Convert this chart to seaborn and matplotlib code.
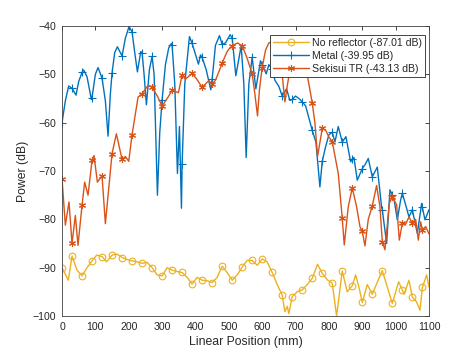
import numpy as np
import pandas as pd
import matplotlib
matplotlib.use('Agg')
import matplotlib.pyplot as plt
import seaborn as sns

# power traces (position in mm, power in dB)
noref_mm = [0, 19, 30, 45, 60, 75, 90, 104, 120, 134, 150, 165, 180, 195, 210, 225, 240, 255, 270, 285,
            300, 315, 330, 345, 360, 375, 390, 405, 420, 435, 450, 465, 480, 495, 510, 525, 540, 555, 570, 585,
            600, 615, 630, 645, 660, 668, 675, 680, 690, 705, 720, 735, 750, 766, 780, 795, 810, 823, 840, 855,
            870, 880, 890, 900, 915, 930, 945, 960, 975, 990, 1009, 1020, 1025, 1040, 1050, 1062, 1073, 1080,
            1093, 1100]
noref_db = [-90.0, -92.6, -87.6, -90.5, -91.7, -90.0, -88.6, -87.4, -87.7, -88.8, -87.4, -87.2, -87.9, -88.3,
            -88.6, -88.8, -89.1, -88.9, -90.0, -91.5, -91.7, -90.0, -90.5, -90.8, -91.0, -92.0, -93.4, -92.0,
            -92.6, -92.7, -93.1, -92.0, -89.7, -91.0, -92.6, -91.5, -89.9, -88.5, -88.5, -89.5, -88.2, -88.8,
            -91.0, -93.5, -95.7, -99.1, -98.0, -99.5, -96.0, -95.0, -94.6, -93.5, -92.2, -89.3, -91.2, -92.5,
            -93.2, -100.0, -90.7, -95.0, -93.7, -91.5, -94.0, -97.2, -93.5, -95.5, -93.0, -90.6, -94.0, -97.4,
            -92.9, -94.6, -95.5, -92.6, -96.1, -97.0, -98.8, -94.1, -91.5, -94.0]

metal_mm = [0, 10, 20, 30, 42, 50, 60, 65, 75, 88, 90, 100, 108, 120, 130, 138, 145, 150, 158, 166,
            180, 190, 201, 210, 218, 226, 236, 240, 246, 253, 262, 270, 276, 286, 293, 300, 310, 320, 328, 330,
            338, 346, 352, 358, 360, 368, 382, 390, 409, 415, 420, 432, 446, 450, 460, 472, 480, 490,
            504, 510, 521, 537, 545, 552, 560, 570, 581, 595, 600, 612, 620, 630, 638, 650, 660, 673,
            683, 690, 700, 710, 720, 730, 738, 750, 761, 773, 780, 790, 800, 810, 818, 828, 840, 851, 865, 870,
            875, 885, 900, 910, 918, 930, 945, 958, 960, 973, 983, 990, 995, 1005, 1015, 1020, 1030, 1040, 1050,
            1065, 1078, 1080, 1088, 1100]
metal_db = [-60.0, -55.5, -52.4, -52.9, -54.3, -51.5, -49.6, -49.1, -50.5, -55.2, -54.8, -50.0, -48.6, -50.8,
            -55.5, -62.8, -54.0, -49.7, -45.5, -44.3, -46.2, -42.5, -40.1, -41.2, -45.5, -49.5, -45.3, -45.5,
            -50.0, -56.3, -49.0, -46.3, -50.0, -75.0, -62.0, -55.3, -48.0, -44.5, -43.6, -44.0, -52.0, -70.5,
            -60.8, -77.7, -68.6, -52.0, -42.2, -43.6, -47.9, -46.0, -46.5, -49.0, -53.2, -51.0, -44.0,
            -42.0, -43.8, -43.5, -41.8, -42.5, -50.3, -44.1, -52.0, -67.2, -52.0, -46.5, -53.0, -47.2,
            -48.0, -49.9, -48.0, -49.0, -51.2, -52.5, -54.5, -53.0, -55.4, -55.2, -54.5, -55.0,
            -55.7, -56.5, -58.5, -61.6, -64.0, -73.3, -68.0, -65.0, -62.5, -62.0, -64.0, -60.8, -64.0, -62.9,
            -68.1, -67.5, -67.2, -71.9, -69.5, -68.5, -67.4, -71.2, -69.2, -77.5, -78.0, -85.0, -73.9, -75.0,
            -75.7, -80.1, -76.0, -74.6, -77.0, -79.5, -78.0, -82.9, -76.7, -77.5, -80.1, -78.0]

sekisui_mm = [0, 10, 21, 30, 40, 48, 60, 68, 78, 90, 96, 106, 120, 130, 150, 163, 180, 190, 200, 210,
              228, 240, 258, 270, 288, 300, 318, 330, 349, 360, 370, 390, 404, 420, 440, 450, 460, 470, 480, 494,
              500, 510, 526, 540, 554, 570, 578, 586, 592, 600, 610, 620, 628, 640, 650, 660, 668, 676,
              690, 700, 715, 730, 740, 750, 758, 766, 780, 790, 800, 810, 828, 840, 846, 858, 870, 883, 893, 900,
              908, 918, 930, 943, 953, 960, 968, 981, 990, 1003, 1011, 1020, 1030, 1040, 1050, 1060, 1068, 1075,
              1080, 1090, 1100]
sekisui_db = [-71.6, -81.2, -76.4, -85.0, -79.2, -85.4, -77.1, -72.3, -75.0, -67.8, -66.8, -72.3, -71.0, -80.9,
              -66.4, -62.3, -67.6, -67.0, -68.0, -62.5, -54.7, -54.0, -52.3, -52.6, -54.8, -56.6, -54.7, -53.3,
              -53.8, -50.1, -51.0, -49.8, -51.0, -52.7, -51.3, -52.0, -51.2, -49.5, -47.7, -45.4,
              -44.8, -44.1, -43.5, -44.1, -46.5, -49.9, -54.0, -58.6, -53.0, -48.6, -45.0, -43.5, -43.3, -44.5,
              -46.0, -50.0, -55.7, -52.0, -46.5, -44.5, -45.0, -48.5, -52.0, -55.9, -60.0, -67.0, -61.2, -61.5,
              -63.0, -63.9, -70.5, -79.8, -85.3, -77.4, -73.5, -77.4, -81.5, -82.5, -85.5, -80.0, -77.2, -73.0,
              -77.4, -84.6, -86.3, -76.7, -75.3, -77.0, -84.3, -80.8, -81.0, -79.5, -80.8, -80.0, -84.3, -80.5,
              -82.2, -81.5, -83.0]

labels = ['No reflector (-87.01 dB)', 'Metal (-39.95 dB)', 'Sekisui TR (-43.13 dB)']
colors = ['#EDB120', '#0072BD', '#D95319']

sns.set_style('white')
plt.rcParams['font.family'] = ['Liberation Sans', 'DejaVu Sans']

fig = plt.figure(figsize=(4.74, 3.55), dpi=100)
ax = fig.add_axes([62/474, 39/355, 367/474, 290/355])

series = [(noref_mm, noref_db, 'o', 4.8),
          (metal_mm, metal_db, '+', 5.5),
          (sekisui_mm, sekisui_db, (6, 2, 0), 5.0)]

for (mm, db, mk, ms), lab, col in zip(series, labels, colors):
    df = pd.DataFrame({'mm': mm, 'db': db})
    # markers every 30 mm like the original
    every = [i for i, m in enumerate(mm) if m % 30 == 0]
    sns.lineplot(data=df, x='mm', y='db', ax=ax, estimator=None, color=col, linewidth=1.0,
                 marker=mk, markevery=every, markersize=ms, markerfacecolor='none',
                 markeredgecolor=col, markeredgewidth=0.8, label=lab)

ax.set_xlim(0, 1100)
ax.set_ylim(-100, -40)
ax.set_xticks(range(0, 1101, 100))
ax.set_yticks(range(-100, -39, 10))
ax.tick_params(direction='in', length=3, width=0.6, top=True, right=True,
               labelsize=7.6, colors='#262626', pad=4.5)
for sp in ax.spines.values():
    sp.set_visible(True)
    sp.set_color('#404040')
    sp.set_linewidth(0.6)

ax.set_xlabel('Linear Position (mm)', fontsize=8.8, color='#262626', labelpad=3)
ax.set_ylabel('Power (dB)', fontsize=8.8, color='#262626', labelpad=2)

leg = ax.legend(loc='upper right', bbox_to_anchor=(0.99, 0.97), borderaxespad=0,
                fontsize=7.6, handlelength=3.4, handletextpad=0.3, labelspacing=0.28,
                borderpad=0.3, fancybox=False, framealpha=1, edgecolor='#262626')
leg.get_frame().set_linewidth(0.6)

fig.savefig('out.png', dpi=100)
